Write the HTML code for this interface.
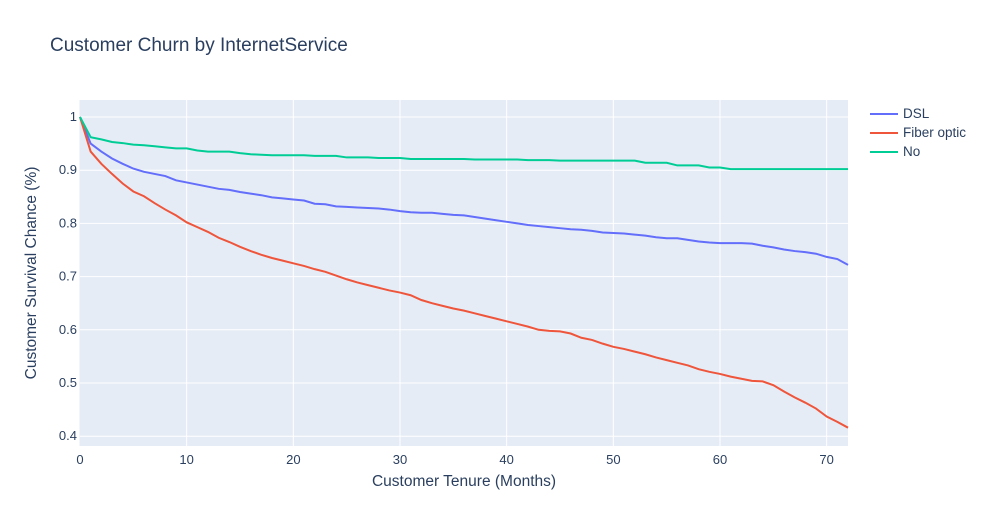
<!DOCTYPE html>
<html><head><meta charset="utf-8"><style>
body{margin:0;background:#fff;font-family:"Liberation Sans",sans-serif}
svg text{font-family:"Liberation Sans",sans-serif}
</style></head><body>
<svg id="chart" width="984" height="525">
<text x="50" y="51" font-size="19" fill="#2a3f5f">Customer Churn by InternetService</text>
<rect x="80" y="100" width="768" height="346" fill="#e5ecf6"/>
<g id="grid"></g><g id="series"></g><g id="ticks"></g>
<text x="464" y="486" font-size="15.5" fill="#2a3f5f" text-anchor="middle">Customer Tenure (Months)</text>
<text transform="translate(36,273) rotate(-90)" font-size="15.5" fill="#2a3f5f" text-anchor="middle">Customer Survival Chance (%)</text>
<g id="legend"></g>
</svg>
<script>
const seriesNames=["DSL","Fiber optic","No"];
const seriesColors=["#636efa","#ef553b","#00cc96"];
const dsl=[1,0.95,0.935,0.922,0.912,0.903,0.897,0.893,0.889,0.881,0.877,0.873,0.869,0.865,0.863,0.859,0.856,0.853,0.849,0.847,0.845,0.843,0.837,0.836,0.832,0.831,0.830,0.829,0.828,0.826,0.823,0.821,0.820,0.820,0.818,0.816,0.815,0.812,0.809,0.806,0.803,0.800,0.797,0.795,0.793,0.791,0.789,0.788,0.786,0.783,0.782,0.781,0.779,0.777,0.774,0.772,0.772,0.769,0.766,0.764,0.763,0.763,0.763,0.762,0.758,0.755,0.751,0.748,0.746,0.743,0.737,0.733,0.722];
const fiber=[1,0.935,0.912,0.893,0.875,0.86,0.851,0.838,0.826,0.815,0.802,0.793,0.784,0.773,0.765,0.756,0.748,0.741,0.735,0.73,0.725,0.72,0.714,0.709,0.702,0.695,0.689,0.684,0.679,0.674,0.67,0.665,0.656,0.65,0.645,0.64,0.636,0.631,0.626,0.621,0.616,0.611,0.606,0.6,0.598,0.597,0.593,0.585,0.581,0.574,0.568,0.564,0.559,0.554,0.548,0.543,0.538,0.533,0.526,0.521,0.517,0.512,0.508,0.504,0.503,0.496,0.484,0.473,0.463,0.452,0.437,0.427,0.416];
const noNet=[1,0.962,0.958,0.953,0.951,0.948,0.947,0.945,0.943,0.941,0.941,0.937,0.935,0.935,0.935,0.932,0.93,0.929,0.928,0.928,0.928,0.928,0.927,0.927,0.927,0.924,0.924,0.924,0.923,0.923,0.923,0.921,0.921,0.921,0.921,0.921,0.921,0.920,0.920,0.920,0.920,0.920,0.919,0.919,0.919,0.918,0.918,0.918,0.918,0.918,0.918,0.918,0.918,0.914,0.914,0.914,0.909,0.909,0.909,0.905,0.905,0.902,0.902,0.902,0.902,0.902,0.902,0.902,0.902,0.902,0.902,0.902,0.902];
const xTicks=[0,10,20,30,40,50,60,70];
const yTicks=[0.4,0.5,0.6,0.7,0.8,0.9,1];
const yLabels=["0.4","0.5","0.6","0.7","0.8","0.9","1"];
const NS="http://www.w3.org/2000/svg";
const xs=v=>80+v*(768/72);
const ys=v=>117+(1-v)*532;
function mk(t,a,p){const e=document.createElementNS(NS,t);for(const k in a)e.setAttribute(k,a[k]);p.appendChild(e);return e;}
const grid=document.getElementById('grid'),ticks=document.getElementById('ticks');
xTicks.forEach(v=>{
 const l=mk('line',{x1:xs(v),x2:xs(v),y1:100,y2:446,stroke:v===0?'#e5ecf6':'#fff','stroke-width':1},grid);
 
 
 const t=mk('text',{x:xs(v),y:464,'font-size':13,fill:'#2a3f5f','text-anchor':'middle'},ticks);t.textContent=v;
 
 
});
yTicks.forEach((v,i)=>{
 const l=mk('line',{x1:80,x2:848,y1:ys(v),y2:ys(v),stroke:'#fff','stroke-width':1},grid);
 
 
 const t=mk('text',{x:77,y:ys(v)+4,'font-size':13,fill:'#2a3f5f','text-anchor':'end'},ticks);t.textContent=yLabels[i];
 
 
});
const sg=document.getElementById('series'),lg=document.getElementById('legend');
[dsl,fiber,noNet].forEach((d,i)=>{
 const p=mk('polyline',{points:d.map((v,j)=>xs(j)+','+ys(v)).join(' '),fill:'none',stroke:seriesColors[i],'stroke-width':2},sg);
 
 
 const g=mk('g',{},lg);
 
 
 mk('line',{x1:870,x2:898,y1:114+i*19,y2:114+i*19,stroke:seriesColors[i],'stroke-width':2},g);
 const t=mk('text',{x:903,y:118+i*19,'font-size':13.5,fill:'#2a3f5f'},g);t.textContent=seriesNames[i];
});
</script>
</body></html>
